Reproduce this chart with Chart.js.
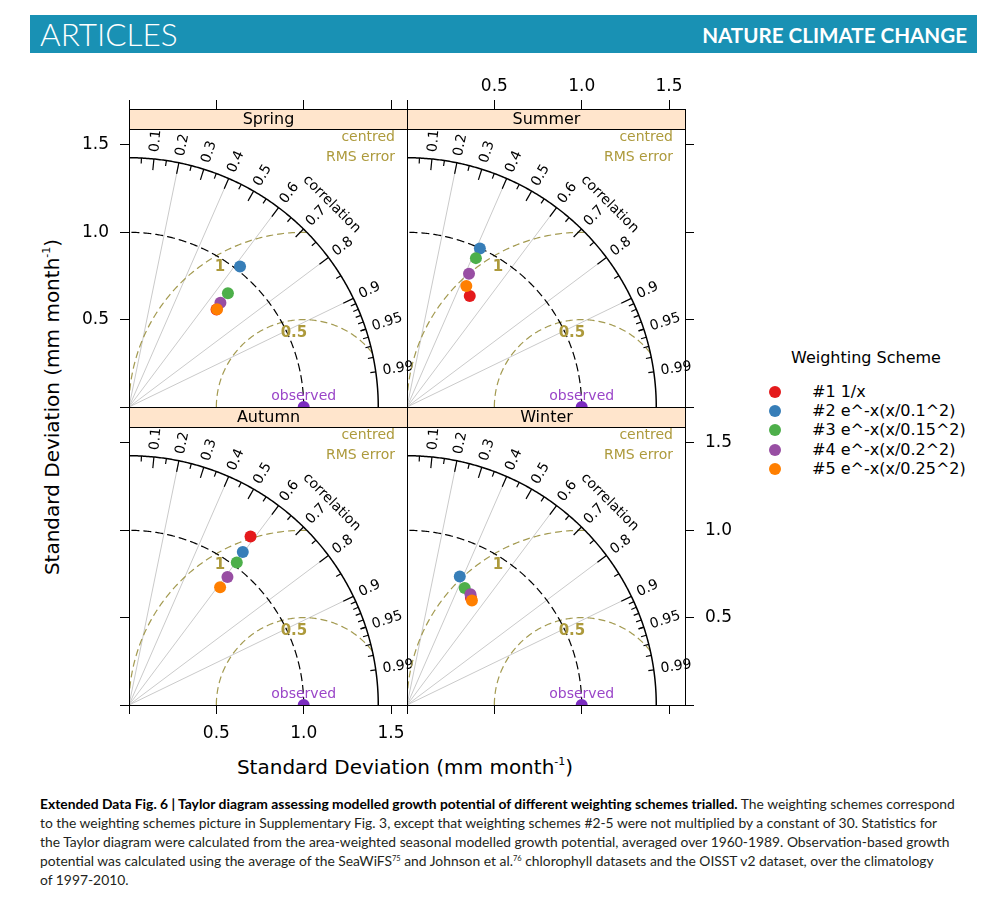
<!DOCTYPE html>
<html><head><meta charset="utf-8">
<script src="https://cdn.jsdelivr.net/npm/chart.js@4.4.1/dist/chart.umd.min.js"></script>
<style>
html,body{margin:0;padding:0;background:#fff;}
body{width:995px;height:918px;position:relative;overflow:hidden;font-family:'DejaVu Sans',sans-serif;color:#000;}
canvas{position:absolute;}
#hdr{position:absolute;left:30px;top:15px;width:947px;height:38px;background:#1991b4;}
#hdrL{position:absolute;left:10px;top:0;line-height:38px;font-family:Lato,sans-serif;font-weight:300;font-size:31.5px;color:#fff;}
#hdrR{position:absolute;right:10px;top:0;line-height:40px;font-family:Lato,sans-serif;font-weight:700;font-size:20.6px;color:#fff;}
.ttl{position:absolute;font-size:20px;white-space:nowrap;line-height:24px;}
.ttl sup{font-size:11px;vertical-align:9px;line-height:0;}
#ytitle{left:52px;top:407px;transform:translate(-50%,-50%) rotate(-90deg);}
#xtitle{left:405px;top:767px;transform:translate(-50%,-50%);}
#legend{position:absolute;left:0;top:0;}
.lgT{position:absolute;left:791px;top:348px;font-size:16px;line-height:20px;white-space:nowrap;}
.lgI{position:absolute;left:812px;font-size:16px;line-height:20px;white-space:nowrap;}
.lgD{position:absolute;width:12px;height:12px;border-radius:50%;}
#cap{position:absolute;left:40px;top:794px;font-family:Lato,sans-serif;font-size:13.85px;line-height:19px;white-space:nowrap;color:#231f20;}
#cap b{font-weight:700;color:#000;}
#cap sup{font-size:7.5px;vertical-align:5px;line-height:0;}
</style></head><body>
<div id="hdr"><div id="hdrL">ARTICLES</div><div id="hdrR">NATURE CLIMATE CHANGE</div></div>
<div class="ttl" id="ytitle">Standard Deviation (mm month<sup>-1</sup>)</div>
<div class="ttl" id="xtitle">Standard Deviation (mm month<sup>-1</sup>)</div>
<div id="legend"></div>
<div id="cap"><b>Extended Data Fig. 6 | Taylor diagram assessing modelled growth potential of different weighting schemes trialled.</b> The weighting schemes correspond<br>to the weighting schemes picture in Supplementary Fig. 3, except that weighting schemes #2-5 were not multiplied by a constant of 30. Statistics for<br>the Taylor diagram were calculated from the area-weighted seasonal modelled growth potential, averaged over 1960-1989. Observation-based growth<br>potential was calculated using the average of the SeaWiFS<sup>75</sup> and Johnson et al.<sup>76</sup> chlorophyll datasets and the OISST v2 dataset, over the climatology<br>of 1997-2010.</div>
<script>
// ---------------- data ----------------
const seasons = ['Spring', 'Summer', 'Autumn', 'Winter'];
const schemeNames = ['#1 1/x', '#2 e^-x(x/0.1^2)', '#3 e^-x(x/0.15^2)', '#4 e^-x(x/0.2^2)', '#5 e^-x(x/0.25^2)'];
// standard deviation (mm month-1) of each weighting scheme
const sdSpring = [0.750, 1.025, 0.863, 0.794, 0.753];
const sdSummer = [0.730, 0.998, 0.939, 0.841, 0.772];
const sdAutumn = [1.189, 1.091, 1.023, 0.924, 0.852];
const sdWinter = [0.715, 0.795, 0.747, 0.731, 0.704];
// correlation with observations
const corSpring = [0.668, 0.620, 0.656, 0.659, 0.669];
const corSummer = [0.492, 0.418, 0.420, 0.422, 0.440];
const corAutumn = [0.585, 0.597, 0.603, 0.610, 0.612];
const corWinter = [0.512, 0.380, 0.442, 0.497, 0.528];
// observed standard deviation per season
const obsSd = [1.0, 1.0, 1.0, 1.0];
// axis / annotation values
const sdTickStep = 0.5;
const corrTickLabels = [0.1, 0.2, 0.3, 0.4, 0.5, 0.6, 0.7, 0.8, 0.9, 0.95, 0.99];
const corrGridLines = [0.2, 0.4, 0.6, 0.8, 0.9];
const rmsContours = [0.5, 1.0];

// ---------------- styles ----------------
const schemeColours = ['#e41a1c', '#377eb8', '#4daf4a', '#984ea3', '#ff7f00'];
const OLIVE_TXT = '#ad9a3c', OLIVE_LINE = '#a39a50', OBS_TXT = '#9a45c8', OBS_PT = '#7b2cc0';
const PPU = 174.7;               // pixels per SD unit
const PW = 278, PH = 298, M = 70, STRIP = 20;
const XMAX = PW / PPU, YMAX = PH / PPU;
const panelLeft = [129, 407, 129, 407];
const panelTop = [109, 109, 407, 407];
const sdBySeason = [sdSpring, sdSummer, sdAutumn, sdWinter];
const corBySeason = [corSpring, corSummer, corAutumn, corWinter];
const maxsd = 1.2 * Math.max(...sdSpring, ...sdSummer, ...sdAutumn, ...sdWinter);
// RMS label anchor (data units) for each contour
const rmsLabelAt = [[0.944, 0.424], [0.521, 0.801]];

// legend
const lg = document.getElementById('legend');
lg.innerHTML = '<div class="lgT">Weighting Scheme</div>' + schemeNames.map((n, i) => {
  const cy = 392 + i * 19.2;
  return `<div class="lgD" style="left:${775 - 6}px;top:${cy - 6}px;background:${schemeColours[i]}"></div>` +
         `<div class="lgI" style="top:${cy - 10}px">${n}</div>`;
}).join('');

const taylorPlugin = {
  id: 'taylor',
  beforeDatasetsDraw(chart, args, o) {
    const { ctx, chartArea: a, scales: { x, y } } = chart;
    const P = (u, v) => [x.getPixelForValue(u), y.getPixelForValue(v)];
    const obs = o.obs;
    ctx.save();
    ctx.beginPath(); ctx.rect(a.left, a.top, a.right - a.left, a.bottom - a.top); ctx.clip();
    // correlation grid lines
    ctx.strokeStyle = '#cacaca'; ctx.lineWidth = 1;
    corrGridLines.forEach(c => {
      const s = Math.sqrt(1 - c * c);
      ctx.beginPath(); ctx.moveTo(...P(0, 0)); ctx.lineTo(...P(maxsd * c, maxsd * s)); ctx.stroke();
    });
    const poly = (cx, cy, r, a0, a1, keep) => {
      const n = 240; let open = false;
      ctx.beginPath();
      for (let i = 0; i <= n; i++) {
        const t = a0 + (a1 - a0) * i / n;
        const u = cx + r * Math.cos(t), v = cy + r * Math.sin(t);
        if (keep && !keep(u, v)) { open = false; continue; }
        const p = P(u, v);
        if (!open) { ctx.moveTo(...p); open = true; } else ctx.lineTo(...p);
      }
      ctx.stroke();
    };
    // RMS contours
    ctx.strokeStyle = OLIVE_LINE; ctx.lineWidth = 1.2; ctx.setLineDash([7, 4]);
    rmsContours.forEach(r => poly(obs, 0, r, 0, Math.PI, (u, v) => u >= 0 && Math.hypot(u, v) <= maxsd));
    // observed sd arc
    ctx.strokeStyle = '#000'; ctx.lineWidth = 1.2; ctx.setLineDash([8, 4]);
    poly(0, 0, obs, 0, Math.PI / 2);
    ctx.setLineDash([]);
    // outer arc
    ctx.lineWidth = 1.5;
    poly(0, 0, maxsd, 0, Math.PI / 2);
    // ticks on outer arc
    ctx.lineWidth = 1.2;
    const tick = (c, f) => {
      const s = Math.sqrt(1 - c * c);
      ctx.beginPath(); ctx.moveTo(...P(maxsd * c, maxsd * s)); ctx.lineTo(...P(f * maxsd * c, f * maxsd * s)); ctx.stroke();
    };
    for (let k = 1; k <= 9; k++) tick(k / 10, 0.955);
    for (let k = 0; k <= 9; k++) tick(0.05 + k / 10, 0.978);
    for (let k = 1; k <= 9; k++) tick(0.9 + k / 100, 0.978);
    ctx.restore();

    ctx.save();
    // correlation labels
    ctx.fillStyle = '#000'; ctx.font = '14px "DejaVu Sans"';
    ctx.textAlign = 'left'; ctx.textBaseline = 'middle';
    corrTickLabels.forEach(c => {
      const th = Math.acos(c), r = maxsd * 1.02;
      const p = P(r * c, r * Math.sin(th));
      ctx.save(); ctx.translate(...p); ctx.rotate(-th); ctx.fillText(String(c), 2, 0); ctx.restore();
    });
    {
      const r = maxsd * 1.15, th = Math.PI / 4;
      const p = P(r * Math.cos(th), r * Math.sin(th));
      ctx.save(); ctx.translate(...p); ctx.rotate(Math.PI / 4); ctx.textAlign = 'center'; ctx.fillText('correlation', 0, 0); ctx.restore();
    }
    // RMS labels
    ctx.fillStyle = OLIVE_TXT; ctx.font = 'bold 15px "DejaVu Sans"'; ctx.textAlign = 'center';
    rmsContours.forEach((r, i) => ctx.fillText(String(r), ...P(...rmsLabelAt[i])));
    ctx.font = '14px "DejaVu Sans"'; ctx.textAlign = 'right';
    ctx.fillText('centred', a.right - 12, a.top + 28);
    ctx.fillText('RMS error', a.right - 12, a.top + 48);
    // observed label
    ctx.fillStyle = OBS_TXT; ctx.textAlign = 'center';
    const po = P(obs, 0);
    ctx.fillText('observed', po[0], po[1] - 11);
    ctx.restore();
  },
  afterDatasetsDraw(chart, args, o) {
    const { ctx, chartArea: a } = chart;
    ctx.save();
    const L = Math.round(a.left) + 0.5, T = Math.round(a.top) + 0.5;
    const W = Math.round(a.right - a.left), H = Math.round(a.bottom - a.top);
    ctx.fillStyle = '#ffe5cc';
    ctx.fillRect(L, T, W, STRIP);
    ctx.strokeStyle = '#000'; ctx.lineWidth = 1;
    ctx.strokeRect(L, T, W, STRIP);
    ctx.strokeRect(L, T, W, H);
    ctx.fillStyle = '#000'; ctx.font = '16px "DejaVu Sans"'; ctx.textAlign = 'center'; ctx.textBaseline = 'middle';
    ctx.fillText(o.title, L + W / 2, T + STRIP / 2 + 0.5);
    ctx.restore();
  }
};

const labelPad = { top: 3, bottom: 9, left: 11, right: 11 };
function scaleCfg(position, isX, showTicks, showLabels) {
  return {
    type: 'linear', position, min: 0, max: isX ? XMAX : YMAX,
    afterFit: s => { if (isX) s.height = M; else s.width = M; },
    grid: { display: showTicks, drawOnChartArea: false, drawTicks: true, tickLength: 9, color: '#000', lineWidth: 1 },
    border: { display: false },
    ticks: {
      display: showLabels, stepSize: sdTickStep, includeBounds: false, autoSkip: false, maxRotation: 0, minRotation: 0,
      padding: labelPad[position], color: '#000', font: { family: 'DejaVu Sans', size: 17 },
      callback: v => (v === 0 ? '' : v.toFixed(1))
    }
  };
}

seasons.forEach((season, i) => {
  const col = i % 2, row = Math.floor(i / 2);
  const cv = document.createElement('canvas');
  cv.width = PW + 2 * M; cv.height = PH + 2 * M;
  cv.style.left = (panelLeft[i] - M) + 'px'; cv.style.top = (panelTop[i] - M) + 'px';
  cv.style.width = cv.width + 'px'; cv.style.height = cv.height + 'px';
  document.body.appendChild(cv);
  const sd = sdBySeason[i], cor = corBySeason[i];
  const datasets = schemeNames.map((name, k) => ({
    label: name,
    data: [{ x: sd[k] * cor[k], y: sd[k] * Math.sqrt(1 - cor[k] * cor[k]) }],
    backgroundColor: schemeColours[k], borderWidth: 0, pointRadius: 6, pointHoverRadius: 6,
    order: schemeNames.length - k
  }));
  datasets.push({
    label: 'observed', data: [{ x: obsSd[i], y: 0 }], backgroundColor: OBS_PT, borderWidth: 0,
    pointRadius: 6, clip: 0, order: 20
  });
  new Chart(cv, {
    type: 'scatter',
    data: { datasets },
    options: {
      responsive: false, animation: false, devicePixelRatio: 1,
      layout: { padding: 0 },
      plugins: { legend: { display: false }, tooltip: { enabled: false }, taylor: { title: season, obs: obsSd[i] } },
      scales: {
        x: scaleCfg('bottom', true, row === 1, i === 2),
        xTop: scaleCfg('top', true, row === 0, i === 1),
        y: scaleCfg('left', false, col === 0, i === 0),
        yRight: scaleCfg('right', false, col === 1, i === 3)
      }
    },
    plugins: [taylorPlugin]
  });
});
</script>
</body></html>
